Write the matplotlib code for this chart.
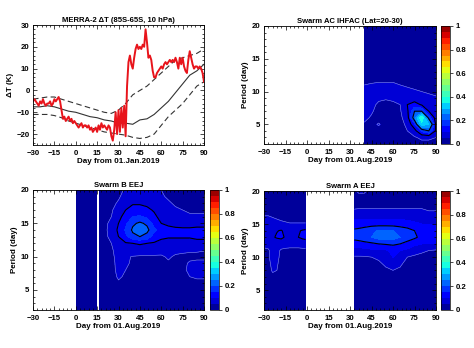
import numpy as np
import matplotlib
matplotlib.use('Agg')
import matplotlib.pyplot as plt
from matplotlib.ticker import MultipleLocator

plt.rcParams['font.family'] = ['Liberation Sans', 'DejaVu Sans']

# ---------------- MERRA-2 line panel data ----------------
mer_days = list(range(-30, 91))
mer_red = [-5, -4, -5, -6, -7, -5, -6, -4, -6, -7,
           -6, -6, -5, -7, -6, -4, -5, -4, -3, -5,
           -9, -13, -12, -14, -13, -12, -14, -13, -15, -14,
           -15, -16, -17, -16, -15, -17, -16, -16, -17, -16,
           -18, -17, -19, -18, -17, -19, -16, -18, -15, -17,
           -16, -17, -18, -16, -17, -21, -23, -18, -10, -20,
           -9, -19, -8, -17, -7, -21, 2, 13, 16, 12,
           10, 15, 19, 21, 19, 20, 19, 21, 20, 28,
           22, 15, 16, 14, 9, 6, 6, 8, 9, 10,
           11, 10, 12, 13, 12, 13, 14, 13, 14, 13,
           15, 13, 10, 15, 12, 15, 11, 9, 8, 14,
           18, 15, 12, 10, 11, 11, 10, 11, 10, 8,
           4]
clim_days = list(range(-30, 91, 5))
clim_mean = [-7.5, -7.5, -7, -7.5, -8.5, -9.5, -10, -11, -12, -12.5, -13.5, -14, -15,
             -15, -15.5, -13.5, -13, -11, -8, -5, -1, 3, 7, 9, 12]
clim_upper = [-4, -3.5, -3, -3, -4, -5, -6, -7, -8, -9, -10, -10.5, -9,
              -6, -2, 0, 2, 5, 8, 11, 14, 15, 16, 17, 19]
clim_lower = [-11, -11, -11, -11.5, -12.5, -14, -15, -16, -17, -18, -19, -19.5, -20,
              -20.5, -21.5, -22, -21.5, -20, -16, -12, -9, -6, -2, 2, 4]

# ---------------- spectra data ----------------
periods = list(range(2, 21))
levels = [round(0.05 * i, 2) for i in range(21)]
cbar_ticks = [0, 0.2, 0.4, 0.6, 0.8, 1.0]
cbar_labels = ['0', '0.2', '0.4', '0.6', '0.8', '1']
xticks_vals = [-30, -15, 0, 15, 30, 45, 60, 75, 90]

# Swarm AC IHFAC (days 40..90)
ac_days = [40, 45, 50, 55, 60, 65, 70, 75, 80, 85, 90]
ac_power = [
    [.03, .03, .03, .03, .03, .03, .03, .03, .035, .035, .03],   # 2
    [.03, .03, .03, .03, .03, .03, .035, .045, .06, .06, .05],   # 3
    [.03, .03, .03, .03, .03, .035, .05, .08, .16, .20, .09],    # 4
    [.045, .035, .055, .03, .03, .035, .06, .14, .33, .30, .09],  # 5
    [.06, .045, .03, .03, .03, .04, .075, .24, .40, .18, .075],  # 6
    [.07, .055, .035, .03, .03, .045, .09, .20, .20, .10, .065],  # 7
    [.08, .065, .04, .035, .04, .05, .10, .12, .095, .075, .06],  # 8
    [.085, .075, .06, .055, .06, .065, .08, .075, .07, .06, .055],  # 9
    [.08, .075, .075, .075, .075, .07, .06, .055, .05, .045, .04],  # 10
    [.05, .055, .06, .06, .06, .05, .045, .04, .04, .04, .04],   # 11
    [.03, .035, .035, .035, .035, .03, .03, .03, .03, .03, .03],  # 12
    [.03] * 11, [.03] * 11, [.03] * 11, [.03] * 11,
    [.03] * 11, [.03] * 11, [.03] * 11, [.03] * 11,            # 13..20
]

# Swarm B EEJ: days 0..15 and 17..90
b_days_left = [0, 15]
b_power_left = [[.03, .03] for _ in range(19)]
b_days = [17, 20, 25, 30, 35, 40, 45, 50, 55, 60, 65, 70, 75, 80, 85, 90]
b_power = [
    [.03] * 16,  # 2
    [.03] * 16,  # 3
    [.03] * 16,  # 4
    [.03] * 16,  # 5
    [.03, .03, .03, .045, .04, .03, .03, .03, .03, .03, .03, .03, .03, .035, .04, .04],  # 6
    [.03, .03, .035, .055, .045, .035, .03, .03, .03, .03, .03, .03, .035, .05, .055, .055],  # 7
    [.03, .03, .04, .058, .05, .04, .035, .035, .035, .035, .035, .035, .04, .06, .065, .065],  # 8
    [.03, .03, .04, .06, .055, .045, .045, .045, .045, .045, .045, .04, .04, .055, .06, .06],  # 9
    [.03, .03, .04, .065, .055, .048, .045, .045, .045, .045, .055, .045, .042, .04, .04, .04],  # 10
    [.03, .03, .045, .065, .075, .08, .08, .075, .07, .065, .06, .06, .058, .056, .055, .052],  # 11
    [.03, .035, .05, .075, .095, .10, .105, .10, .095, .085, .08, .08, .08, .08, .085, .085],  # 12
    [.03, .04, .06, .10, .14, .185, .20, .18, .13, .11, .105, .105, .105, .105, .11, .11],  # 13
    [.03, .04, .065, .11, .155, .21, .24, .215, .16, .13, .115, .11, .11, .11, .115, .115],  # 14
    [.03, .04, .06, .10, .14, .19, .21, .19, .13, .10, .09, .085, .08, .08, .08, .08],  # 15
    [.03, .035, .05, .085, .12, .15, .155, .14, .11, .085, .075, .065, .06, .055, .055, .055],  # 16
    [.03, .03, .045, .07, .10, .12, .12, .11, .095, .075, .065, .055, .05, .045, .045, .045],  # 17
    [.03, .03, .04, .055, .08, .095, .095, .09, .08, .065, .055, .045, .04, .035, .035, .035],  # 18
    [.03, .03, .035, .045, .065, .075, .075, .07, .065, .055, .045, .04, .035, .03, .03, .03],  # 19
    [.03, .03, .03, .04, .055, .06, .06, .06, .055, .05, .04, .035, .03, .03, .03, .03],  # 20
]

# Swarm A EEJ: days -30..-1 and 33..90
a_days_left = [-30, -27, -24, -21, -18, -15, -12, -9, -6, -3, -1]
a_power_left = [
    [.03] * 11, [.03] * 11, [.03] * 11, [.03] * 11, [.03] * 11,  # 2..6
    [.03, .03, .04, .04, .03, .03, .03, .03, .03, .03, .03],  # 7
    [.03, .035, .055, .05, .03, .03, .03, .03, .03, .03, .03],  # 8
    [.03, .04, .06, .055, .035, .03, .03, .03, .03, .03, .03],  # 9
    [.035, .045, .065, .06, .04, .035, .035, .035, .035, .035, .035],  # 10
    [.04, .045, .065, .06, .045, .04, .04, .04, .04, .04, .04],  # 11
    [.065, .065, .07, .07, .07, .07, .065, .065, .065, .07, .07],  # 12
    [.08, .085, .095, .105, .11, .095, .085, .09, .10, .11, .115],  # 13
    [.08, .085, .09, .098, .103, .09, .085, .085, .095, .105, .11],  # 14
    [.075, .075, .07, .065, .06, .055, .052, .052, .052, .052, .052],  # 15
    [.055, .055, .05, .045, .04, .04, .04, .04, .04, .04, .04],  # 16
    [.035, .035, .035, .03, .03, .03, .03, .03, .03, .03, .03],  # 17
    [.03] * 11, [.03] * 11, [.03] * 11,  # 18..20
]
a_days = [33, 36, 40, 45, 50, 55, 60, 65, 70, 75, 80, 85, 90]
a_power = [
    [.03] * 13, [.03] * 13, [.03] * 13, [.03] * 13, [.03] * 13, [.03] * 13,  # 2..7
    [.03, .03, .03, .03, .035, .045, .05, .045, .035, .03, .03, .03, .03],  # 8
    [.035, .035, .035, .04, .045, .055, .065, .055, .04, .035, .03, .03, .03],  # 9
    [.045, .045, .045, .05, .055, .065, .10, .09, .05, .04, .035, .035, .035],  # 10
    [.08, .08, .085, .09, .09, .095, .11, .10, .09, .075, .06, .05, .045],  # 11
    [.12, .12, .13, .14, .15, .155, .16, .15, .13, .11, .10, .10, .10],  # 12
    [.17, .18, .19, .20, .22, .225, .22, .20, .18, .16, .135, .125, .125],  # 13
    [.16, .165, .175, .19, .205, .205, .20, .185, .17, .15, .13, .12, .12],  # 14
    [.12, .12, .125, .13, .13, .13, .13, .125, .12, .11, .10, .10, .10],  # 15
    [.09, .09, .09, .09, .09, .09, .09, .09, .085, .08, .075, .075, .075],  # 16
    [.055, .055, .055, .055, .055, .055, .055, .055, .055, .055, .055, .05, .05],  # 17
    [.035, .04, .04, .04, .04, .04, .04, .04, .04, .04, .04, .04, .04],  # 18
    [.035, .04, .04, .035, .03, .03, .03, .03, .03, .03, .03, .03, .03],  # 19
    [.045, .055, .055, .04, .03, .03, .03, .03, .03, .03, .03, .03, .03],  # 20
]

# ---------------- figure ----------------
W, H = 474, 348
fig = plt.figure(figsize=(W / 100, H / 100), dpi=100)
FS_T = 5.5
FS_L = 5.8
FS_K = 5.6


def px_axes(l, t, r, b):
    return fig.add_axes([l / W, 1 - b / H, (r - l) / W, (b - t) / H])


def style(ax, xlab, ylab, title):
    ax.set_xlim(-30, 90)
    ax.set_xticks(xticks_vals)
    ax.xaxis.set_minor_locator(MultipleLocator(3))
    ax.tick_params(which='both', direction='in', top=True, right=True,
                   labelsize=FS_K, width=0.5)
    ax.tick_params(axis='x', pad=3.5)
    ax.tick_params(axis='y', pad=2.5)
    ax.tick_params(which='major', length=3)
    ax.tick_params(which='minor', length=1.5)
    ax.set_xlabel(xlab, fontsize=FS_L, fontweight='bold', labelpad=1)
    ax.set_ylabel(ylab, fontsize=FS_L, fontweight='bold', labelpad=2)
    ax.set_title(title, fontsize=FS_T, fontweight='bold', pad=2)
    for s in ax.spines.values():
        s.set_linewidth(0.6)
    for lab in ax.get_xticklabels() + ax.get_yticklabels():
        lab.set_fontweight('bold')


# Top-left: MERRA-2
ax1 = px_axes(33, 25, 204, 145)
ax1.plot(clim_days, clim_upper, color='#333333', lw=0.8, ls=(0, (5, 3)))
ax1.plot(clim_days, clim_lower, color='#333333', lw=0.8, ls=(0, (5, 3)))
ax1.plot(clim_days, clim_mean, color='#333333', lw=0.8)
ax1.plot(mer_days, mer_red, color='#e8141b', lw=1.4)
ax1.set_ylim(-25, 30)
ax1.set_yticks([-20, -10, 0, 10, 20, 30])
ax1.yaxis.set_minor_locator(MultipleLocator(2))
style(ax1, 'Day from 01.Jan.2019', '\u0394T (K)', 'MERRA-2 \u0394T (85S-65S, 10 hPa)')


def spectrum(ax, segments):
    cf = None
    for days, power, black in segments:
        Z = np.array(power)
        cf = ax.contourf(days, periods, Z, levels=levels, cmap='jet', vmin=0, vmax=1)
        ax.contour(days, periods, Z, levels=[0.05], colors=[(0.55, 0.58, 0.85)],
                   linewidths=0.4)
        if black:
            ax.contour(days, periods, Z, levels=black, colors='k', linewidths=0.8)
    ax.set_ylim(2, 20)
    ax.set_yticks([5, 10, 15, 20])
    ax.yaxis.set_minor_locator(MultipleLocator(1))
    return cf


def cbar(cf, l, t, r, b):
    cax = px_axes(l, t, r, b)
    cb = fig.colorbar(cf, cax=cax, ticks=cbar_ticks)
    cb.ax.set_yticklabels(cbar_labels)
    cb.ax.tick_params(labelsize=FS_K, width=0.5, length=2, pad=2)
    for lab in cb.ax.get_yticklabels():
        lab.set_fontweight('bold')
    cb.outline.set_linewidth(0.5)


# Top-right: Swarm AC IHFAC
ax2 = px_axes(264, 26, 436, 144)
cf2 = spectrum(ax2, [(ac_days, ac_power, [0.1, 0.2])])
style(ax2, 'Day from 01.Aug.2019', 'Period (day)', 'Swarm AC IHFAC (Lat=20-30)')
cbar(cf2, 441, 26, 450, 144)

# Bottom-left: Swarm B EEJ
ax3 = px_axes(33, 190, 204, 310)
cf3 = spectrum(ax3, [(b_days_left, b_power_left, None), (b_days, b_power, [0.1, 0.2])])
style(ax3, 'Day from 01.Aug.2019', 'Period (day)', 'Swarm B EEJ')
cbar(cf3, 210, 190, 219, 310)

# Bottom-right: Swarm A EEJ
ax4 = px_axes(264, 191, 436, 310)
cf4 = spectrum(ax4, [(a_days_left, a_power_left, [0.1]), (a_days, a_power, [0.15])])
style(ax4, 'Day from 01.Aug.2019', 'Period (day)', 'Swarm A EEJ')
cbar(cf4, 441, 191, 450, 310)

fig.savefig('out.png', dpi=100)
